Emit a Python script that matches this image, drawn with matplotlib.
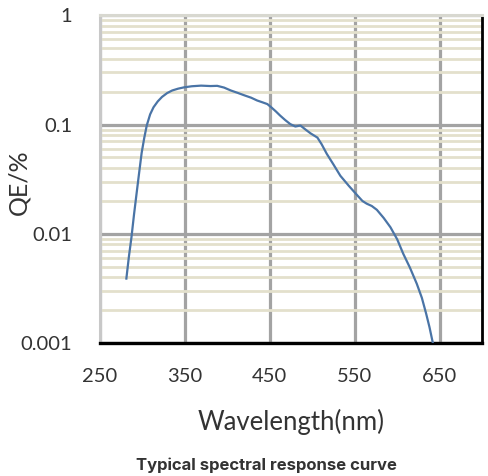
import numpy as np
import matplotlib
matplotlib.use("Agg")
import matplotlib.pyplot as plt
from matplotlib.ticker import FixedLocator, LogLocator, NullFormatter, FixedFormatter

# values
wavelength = [281, 284, 287, 290, 293, 296, 299, 302, 305, 309, 313, 318, 323,
              329, 335, 342, 349, 358, 369, 380, 388, 396, 404, 412, 420, 428,
              435, 441, 447, 452, 457, 462, 468, 474, 480, 486, 492, 498, 506,
              511, 517, 525, 533, 543, 553, 559, 564, 570, 576, 584, 592, 600,
              607, 615, 623, 629, 634, 638, 642]
qe = [0.0039, 0.0062, 0.0093, 0.0150, 0.0233, 0.036, 0.055, 0.075, 0.098, 0.124,
      0.144, 0.163, 0.179, 0.194, 0.205, 0.213, 0.219, 0.224, 0.227, 0.225,
      0.226, 0.218, 0.205, 0.195, 0.185, 0.176, 0.166, 0.160, 0.154, 0.143,
      0.132, 0.121, 0.110, 0.101, 0.096, 0.098, 0.090, 0.083, 0.076, 0.066,
      0.054, 0.043, 0.034, 0.0275, 0.0225, 0.0200, 0.0189, 0.0180, 0.0166,
      0.0140, 0.0115, 0.0089, 0.0066, 0.0049, 0.0035, 0.0026, 0.00187,
      0.00140, 0.0010]

x_ticks = [250, 350, 450, 550, 650]
y_ticks = [0.001, 0.01, 0.1, 1]
y_labels = ["0.001", "0.01", "0.1", "1"]

fig = plt.figure(figsize=(4.88, 4.76), dpi=100)
ax = fig.add_axes([0.205, 0.279, 0.783, 0.689])
ax.set_yscale("log")
ax.set_xlim(250, 700)
ax.set_ylim(0.001, 1)

# grid: beige minor lines, grey major lines
ax.set_axisbelow(True)
ax.yaxis.set_minor_locator(LogLocator(base=10, subs=np.arange(2, 10)))
ax.yaxis.set_minor_formatter(NullFormatter())
ax.yaxis.set_major_locator(FixedLocator(y_ticks))
ax.yaxis.set_major_formatter(FixedFormatter(y_labels))
ax.xaxis.set_major_locator(FixedLocator(x_ticks))
ax.grid(which="minor", axis="y", color="#e3e0cc", lw=2.0)
ax.grid(which="major", axis="y", color="#a3a3a3", lw=2.3)
ax.grid(which="major", axis="x", color="#a3a3a3", lw=2.3)

ax.plot(wavelength, qe, color="#4a74a6", lw=1.6, zorder=3)

ax.spines["left"].set_color("#c8c8c8")
ax.spines["left"].set_linewidth(2.2)
ax.spines["top"].set_color("#d8d8d0")
ax.spines["top"].set_linewidth(2.2)
ax.spines["right"].set_color("black")
ax.spines["right"].set_linewidth(2.0)
ax.spines["bottom"].set_color("black")
ax.spines["bottom"].set_linewidth(2.4)

ax.tick_params(which="both", length=0)
ax.tick_params(axis="y", pad=20, labelsize=14.5)
ax.tick_params(axis="x", pad=18, labelsize=14.5)
for lab in ax.get_xticklabels() + ax.get_yticklabels():
    lab.set_family("Lato")
    lab.set_color("#333333")

ax.set_xlabel("Wavelength(nm)", fontsize=18.5, family="Lato", color="#333333")
ax.set_ylabel("QE/%", fontsize=18, family="Lato", color="#333333")
ax.xaxis.set_label_coords(0.5, -0.2)
ax.yaxis.set_label_coords(-0.182, 0.49)

fig.text(0.545, 0.023, "Typical spectral response curve", ha="center", va="center",
         fontsize=12, fontweight="bold", family="Inter", color="#333333")

fig.savefig("out.png", dpi=100)
